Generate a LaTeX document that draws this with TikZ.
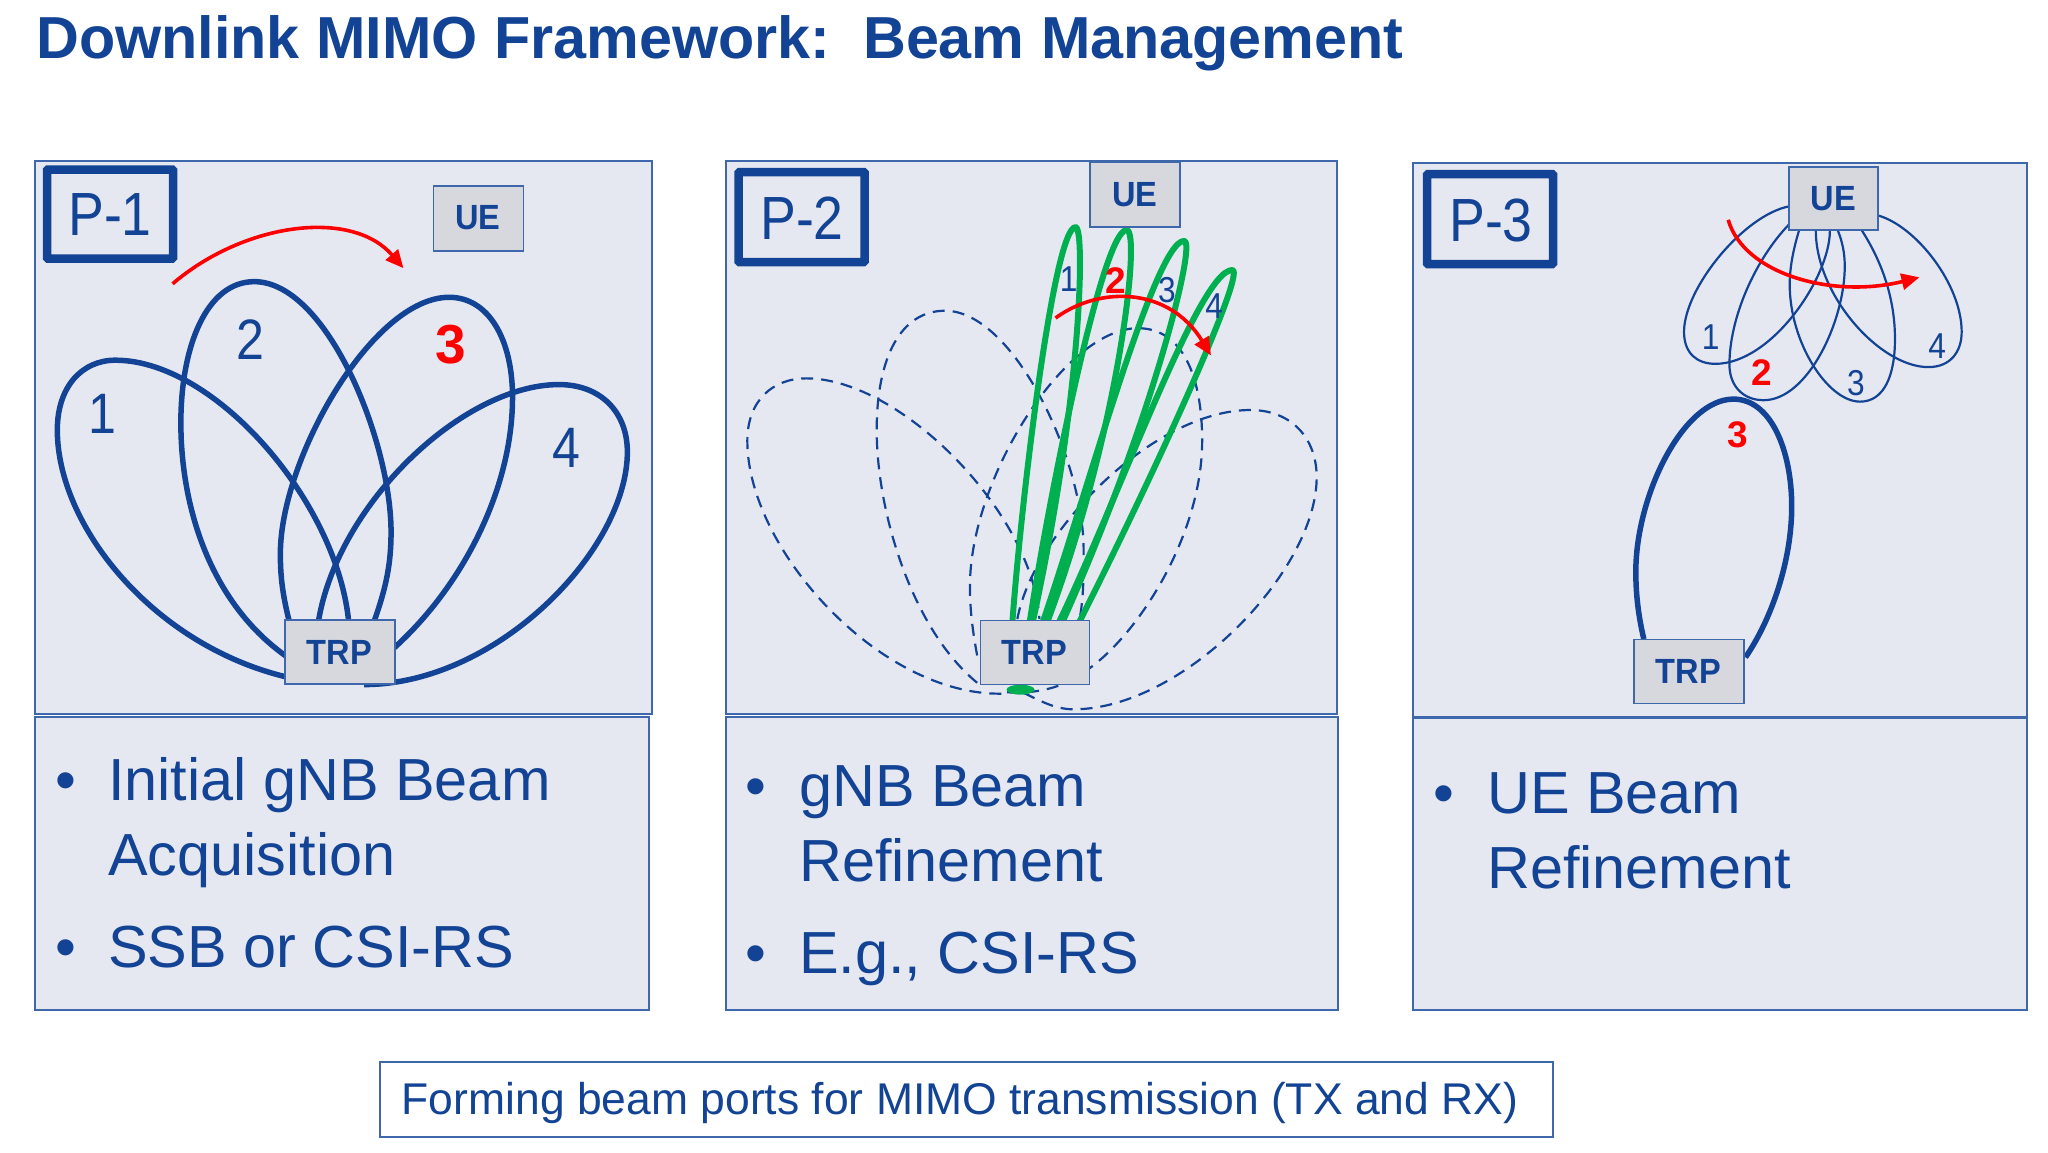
\documentclass[tikz,border=0pt]{standalone}
\usepackage{fontspec}
\setmainfont{Liberation Sans}
\newfontfamily\narrowf[FakeStretch=0.88]{Liberation Sans}
\newfontfamily\devf[FakeStretch=0.93]{Liberation Sans}
\usetikzlibrary{arrows.meta}
\definecolor{navy}{HTML}{124394}
\definecolor{panelfill}{HTML}{E6E8F1}
\definecolor{panelline}{HTML}{3F68AC}
\definecolor{boxfill}{HTML}{D6D8DD}
\definecolor{beamgreen}{HTML}{00B050}
\newcommand{\fs}[1]{\fontsize{#1}{#1}\selectfont}
\tikzset{
  panel/.style={draw=panelline,line width=2.2pt,fill=panelfill},
  badge/.style={draw=navy,line width=8.5pt,fill=panelfill,rounded corners=1pt},
  badgetext/.style={text=navy,font=\narrowf\fs{61}},
  dev/.style={draw=panelline,line width=1.8pt,fill=boxfill},
  devtext/.style={text=navy,font=\devf\bfseries\fs{35}},
  bignum/.style={text=navy,font=\narrowf\fs{57}},
  smallnum/.style={text=navy,font=\narrowf\fs{36}},
  rednum/.style={text=red,font=\bfseries\fs{37}},
  redbig/.style={text=red,font=\bfseries\fs{55}},
  bodytext/.style={text=navy,font=\fs{59.4},anchor=base west,inner sep=0pt},
  lobe/.style={draw=navy,line width=5.5pt,line join=round},
  dashlobe/.style={draw=navy,line width=2.2pt,dash pattern=on 12pt off 8pt},
  thinlobe/.style={draw=navy,line width=2.2pt},
  greenlobe/.style={draw=beamgreen,line width=6pt,line join=round},
  redarrow/.style={draw=red,line width=3.6pt,-{Triangle[length=18pt,width=16pt]}},
  zoomA/.style={shift={(20pt,-150pt)},x=0.41458pt,y=-0.36364pt},
  zoomB/.style={shift={(720pt,-150pt)},x=0.40179pt,y=-0.36364pt},
  zoomC/.style={shift={(1410pt,-150pt)},x=0.40179pt,y=-0.36364pt},
}
\begin{document}
\begin{tikzpicture}[x=1pt,y=-1pt]
\useasboundingbox (0,0) rectangle (2048,1152);
\fill[white] (0,0) rectangle (2048,1152);
\node[text=navy,font=\bfseries\fs{59.3},anchor=base west,inner sep=0pt] (title) at (36,58) {Downlink MIMO Framework:\ \ Beam Management};
% panels
\draw[panel] (35,161) rectangle (652,714);
\draw[panel] (35,717) rectangle (649,1010);
\draw[panel] (726,161) rectangle (1337,714);
\draw[panel] (726,717) rectangle (1338,1010);
\draw[panel] (1413,163) rectangle (2027,717);
\draw[panel] (1413,718) rectangle (2027,1010);
% P-1
\begin{scope}[zoomA]
\draw[lobe] (700,1462) .. controls (350,1400) and (90,1050) .. (90,770) .. controls (90,650) and (150,578) .. (230,578) .. controls (480,578) and (790,1000) .. (795,1340);
\draw[lobe] (680,1420) .. controls (470,1280) and (388,1000) .. (388,750) .. controls (388,540) and (450,362) .. (565,362) .. controls (740,362) and (895,800) .. (895,1050) .. controls (895,1150) and (880,1220) .. (840,1340);
\draw[lobe] (660,1340) .. controls (632,1230) and (628,1170) .. (628,1110) .. controls (628,850) and (850,405) .. (1035,405) .. controls (1130,405) and (1188,520) .. (1188,680) .. controls (1188,950) and (1050,1240) .. (860,1410);
\draw[lobe] (715,1340) .. controls (740,1000) and (1060,645) .. (1300,645) .. controls (1400,645) and (1465,720) .. (1465,830) .. controls (1465,1100) and (1150,1470) .. (830,1470);
\node[dev,minimum width=110pt,minimum height=64pt,inner sep=0pt] (trpA) at (772,1380) {};
\node[devtext] (trpAt) at (770,1382) {TRP};
\node[dev,minimum width=90pt,minimum height=65pt,inner sep=0pt] (ueA) at (1106,188) {};
\node[devtext] (ueAt) at (1104,187) {UE};
\node[bignum] (a1) at (200,725) {1};
\node[bignum] (a2) at (555,520) {2};
\node[redbig] (a3) at (1040,535) {3};
\node[bignum] (a4) at (1318,820) {4};
\coordinate (as) at (368,368);
\coordinate (ae) at (925,325);
\draw[redarrow] (as) .. controls (540,200) and (800,160) .. (ae);
\end{scope}
\node[badge,minimum width=126pt,minimum height=89pt] (pA) at (110,214) {};
\node[badgetext] (pAt) at (110,215) {P-1};
% P-2
\begin{scope}[zoomB]
\draw[dashlobe] (700,1495) .. controls (400,1500) and (68,1100) .. (68,800) .. controls (68,690) and (130,628) .. (215,628) .. controls (450,628) and (780,1000) .. (795,1290);
\draw[dashlobe] (640,1465) .. controls (480,1320) and (390,1000) .. (390,770) .. controls (390,570) and (450,442) .. (560,442) .. controls (730,442) and (905,850) .. (905,1100) .. controls (905,1170) and (905,1230) .. (895,1290);
\draw[dashlobe] (640,1390) .. controls (630,1330) and (622,1270) .. (622,1200) .. controls (622,900) and (860,490) .. (1040,490) .. controls (1150,490) and (1200,620) .. (1200,800) .. controls (1200,1050) and (1050,1320) .. (920,1425) .. controls (870,1470) and (800,1500) .. (700,1490);
\draw[dashlobe] (740,1290) .. controls (780,1050) and (1080,715) .. (1320,715) .. controls (1420,715) and (1485,790) .. (1485,900) .. controls (1485,1160) and (1150,1538) .. (880,1538) .. controls (830,1538) and (790,1510) .. (750,1490);
\draw[greenlobe] (725,1340) .. controls (745,1000) and (830,212) .. (885,212) .. controls (910,212) and (900,700) .. (770,1340);
\draw[greenlobe] (765,1340) .. controls (810,1000) and (950,220) .. (1012,220) .. controls (1050,220) and (990,800) .. (800,1340);
\draw[greenlobe] (790,1340) .. controls (900,1000) and (1080,250) .. (1155,250) .. controls (1190,250) and (1060,800) .. (835,1340);
\draw[greenlobe] (825,1340) .. controls (980,1000) and (1190,330) .. (1275,330) .. controls (1310,330) and (1100,850) .. (875,1340);
\fill[beamgreen] (748,1484) ellipse [x radius=14pt,y radius=5pt];
\node[dev,minimum width=109pt,minimum height=64pt,inner sep=0pt] (trpB) at (784,1382) {};
\node[devtext] (trpBt) at (782,1382) {TRP};
\node[dev,minimum width=90pt,minimum height=65pt,inner sep=0pt] (ueB) at (1033,122) {};
\node[devtext] (ueBt) at (1033,123) {UE};
\node[smallnum] (b1) at (868,355) {1};
\node[rednum] (b2) at (985,358) {2};
\node[smallnum] (b3) at (1112,385) {3};
\node[smallnum] (b4) at (1230,430) {4};
\coordinate (bs) at (835,462);
\coordinate (be) at (1222,565);
\draw[redarrow] (bs) .. controls (950,370) and (1120,380) .. (be);
\end{scope}
\node[badge,minimum width=126pt,minimum height=90pt] (pB) at (801.5,217) {};
\node[badgetext] (pBt) at (802,218) {P-2};
% P-3
\begin{scope}[zoomC]
\draw[thinlobe] (943,155) .. controls (830,180) and (682,380) .. (682,500) .. controls (682,560) and (715,588) .. (760,588) .. controls (900,588) and (1045,350) .. (1045,222);
\draw[thinlobe] (943,205) .. controls (860,300) and (795,460) .. (795,590) .. controls (795,650) and (830,688) .. (880,688) .. controls (990,688) and (1082,470) .. (1082,320) .. controls (1082,280) and (1075,250) .. (1065,222);
\draw[thinlobe] (968,222) .. controls (955,270) and (945,320) .. (945,370) .. controls (945,530) and (1040,692) .. (1120,692) .. controls (1180,692) and (1207,620) .. (1207,520) .. controls (1207,400) and (1170,300) .. (1125,222);
\draw[thinlobe] (1010,222) .. controls (1010,400) and (1170,597) .. (1290,597) .. controls (1345,597) and (1373,555) .. (1373,500) .. controls (1373,370) and (1260,210) .. (1165,180);
\draw[lobe] (582,1345) .. controls (568,1280) and (562,1220) .. (562,1160) .. controls (562,950) and (680,685) .. (805,685) .. controls (900,685) and (950,830) .. (950,980) .. controls (950,1130) and (900,1290) .. (835,1395);
\node[dev,minimum width=110pt,minimum height=64pt,inner sep=0pt] (trpC) at (695,1434) {};
\node[devtext] (trpCt) at (693,1434) {TRP};
\node[dev,minimum width=89pt,minimum height=63pt,inner sep=0pt] (ueC) at (1054,133) {};
\node[devtext] (ueCt) at (1054,133) {UE};
\node[smallnum] (c1) at (748,515) {1};
\node[rednum] (c2) at (875,612) {2};
\node[smallnum] (c3) at (1110,640) {3};
\node[smallnum] (c4) at (1312,540) {4};
\node[rednum] (c5) at (815,783) {3};
\coordinate (cs) at (792,192);
\coordinate (ce) at (1268,350);
\draw[redarrow] (cs) .. controls (830,340) and (1050,410) .. (ce);
\end{scope}
\node[badge,minimum width=126pt,minimum height=90pt] (pC) at (1490,219) {};
\node[badgetext] (pCt) at (1491,220) {P-3};
% body text
\node[bodytext] (tA0) at (55,800) {•};
\node[bodytext] (tA1) at (108,800) {Initial gNB Beam};
\node[bodytext] (tA2) at (108,875) {Acquisition};
\node[bodytext] (tA3) at (55,967) {•};
\node[bodytext] (tA4) at (108,967) {SSB or CSI-RS};
\node[bodytext] (tB0) at (745,806) {•};
\node[bodytext] (tB1) at (799,806) {gNB Beam};
\node[bodytext] (tB2) at (799,881) {Refinement};
\node[bodytext] (tB3) at (745,973) {•};
\node[bodytext] (tB4) at (799,973) {E.g., CSI-RS};
\node[bodytext] (tC0) at (1433,813) {•};
\node[bodytext] (tC1) at (1487,813) {UE Beam};
\node[bodytext] (tC2) at (1487,888) {Refinement};
% footer
\node[draw=panelline,line width=2.2pt,fill=white,minimum width=1173pt,minimum height=75pt,inner sep=0pt] (foot) at (966.5,1099.5) {};
\node[text=navy,font=\fs{44.45}] (foott) at (960,1103) {Forming beam ports for MIMO transmission (TX and RX)};
\end{tikzpicture}
\end{document}
